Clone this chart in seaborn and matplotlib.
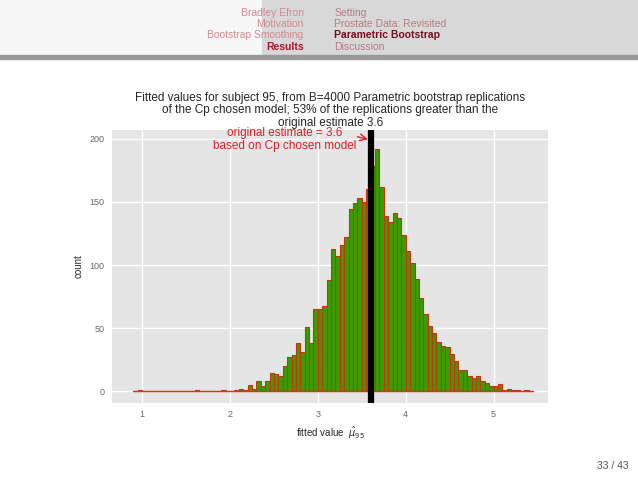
import numpy as np
import pandas as pd
import matplotlib
matplotlib.use("Agg")
import matplotlib.pyplot as plt
import seaborn as sns

bin_width = 0.05
bin_start = 0.9
counts = [0, 1, 0, 0, 0, 0, 0, 0, 0, 0,
          0, 0, 0, 0, 1, 0, 0, 0, 0, 0,
          1, 0, 0,
          1, 2, 1, 5, 2, 8, 4, 8, 15, 14,
          12, 20, 27, 29, 38, 31, 51, 38, 65, 65,
          68, 88, 113, 107, 116, 122, 144, 149, 153, 150,
          160, 178, 192, 162, 139, 134, 141, 137, 124, 111,
          102, 89, 74, 61, 52, 46, 39, 36, 35, 30,
          24, 17, 17, 12, 11, 12, 8, 7, 4, 4,
          6, 1, 2, 1, 1, 0, 1, 0]
original_estimate = 3.61
x_ticks = [1, 2, 3, 4, 5]
y_ticks = [0, 50, 100, 150, 200]

edges = [float(e) for e in bin_start + bin_width * np.arange(len(counts) + 1)]
centers = [(a + b) / 2 for a, b in zip(edges[:-1], edges[1:])]
df = pd.DataFrame({"value": centers, "n": counts})

sns.set_theme(style="darkgrid", rc={"axes.facecolor": "#e5e5e5", "grid.color": "white"})
plt.rcParams['font.family'] = ['Liberation Sans', 'DejaVu Sans']
fig = plt.figure(figsize=(6.38, 4.79), dpi=100)
fig.patch.set_facecolor("white")

# beamer header
fig.patches.append(plt.Rectangle((0, 0.885), 0.41, 0.115, transform=fig.transFigure, color="#f7f7f7", zorder=0))
fig.patches.append(plt.Rectangle((0.41, 0.885), 0.59, 0.115, transform=fig.transFigure, color="#d8d8d8", zorder=0))
fig.patches.append(plt.Rectangle((0, 0.877), 1, 0.008, transform=fig.transFigure, color="#999999", zorder=0))
left_items = ["Bradley Efron", "Motivation", "Bootstrap Smoothing", "Results"]
right_items = ["Setting", "Prostate Data: Revisited", "Parametric Bootstrap", "Discussion"]
for i, t in enumerate(left_items):
    fig.text(0.476, 0.973 - i * 0.0235, t, ha="right", va="center", fontsize=7.5,
             color="#b0142a" if t == "Results" else "#d08a92", fontweight="bold" if t == "Results" else "normal")
for i, t in enumerate(right_items):
    fig.text(0.524, 0.973 - i * 0.0235, t, ha="left", va="center", fontsize=7.5,
             color="#7a0e1c" if t == "Parametric Bootstrap" else "#b67c84",
             fontweight="bold" if t == "Parametric Bootstrap" else "normal")
fig.text(0.985, 0.027, "33 / 43", ha="right", va="center", fontsize=7.5, color="#555555")

ax = fig.add_axes([0.176, 0.159, 0.683, 0.57])
sns.histplot(data=df, x="value", weights="n", bins=edges, color="#33a000",
             edgecolor="#d03010", linewidth=0.8, alpha=1, ax=ax)
ax.plot([edges[0], edges[-1]], [0, 0], color="#e03020", lw=1, zorder=3)
ax.axvline(original_estimate, color="black", lw=4.5, zorder=5)
ax.set_xlim(0.66, 5.62)
ax.set_ylim(-9, 207)
ax.set_xticks(x_ticks)
ax.set_yticks(y_ticks)
ax.tick_params(labelsize=6.5, colors="#666666", length=2)
ax.set_ylabel("count", fontsize=7)
ax.set_xlabel(r"fitted value  $\hat{\mu}_{95}$", fontsize=7)
for s in ax.spines.values():
    s.set_visible(False)
ax.text(2.62, 204.5, "original estimate = 3.6", color="#e0202a", ha="center", va="center", fontsize=8.5)
ax.text(2.62, 194, "based on Cp chosen model", color="#e0202a", ha="center", va="center", fontsize=8.5)
ax.annotate("", xy=(3.6, 199), xytext=(3.42, 202),
            arrowprops=dict(arrowstyle="->", color="#e0202a", lw=1))
ax.set_title("Fitted values for subject 95, from B=4000 Parametric bootstrap replications\n"
             "of the Cp chosen model; 53% of the replications greater than the\n"
             "original estimate 3.6", fontsize=8.5, linespacing=1.05, pad=3)
fig.savefig("out.png", dpi=100)
